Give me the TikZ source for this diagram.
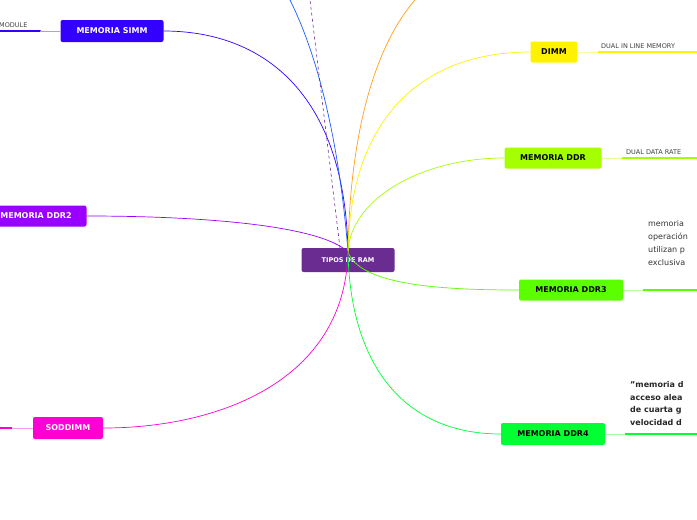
\documentclass[tikz,border=0pt]{standalone}
\usepackage{fontspec}
\setmainfont{DejaVu Sans}
\begin{document}
\begin{tikzpicture}[x=1pt,y=-1pt,
  box/.style={rounded corners=2pt,font=\bfseries\fontsize{8}{9}\selectfont,inner sep=0pt,minimum height=21pt},
  lbl/.style={font=\fontsize{6.5}{7}\selectfont,text=black!75,anchor=south west,inner sep=1pt},
  br/.style={line width=0.7pt}]
\useasboundingbox (0,0) rectangle (697,520);
\clip (0,0) rectangle (697,520);
\definecolor{cpur}{HTML}{6A2C91}
\definecolor{csimm}{HTML}{3300FF}
\definecolor{cblue}{HTML}{1A5CFF}
\definecolor{corange}{HTML}{FF9E1A}
\definecolor{cyel}{HTML}{FFF200}
\definecolor{cddr}{HTML}{A6FF00}
\definecolor{cddr3}{HTML}{5CFF00}
\definecolor{cddr4}{HTML}{00FF33}
\definecolor{cddr2}{HTML}{9900FF}
\definecolor{cso}{HTML}{FF00D4}

\node[box,fill=cpur,text=white,minimum width=93pt,font=\bfseries\fontsize{6.5}{7}\selectfont,minimum height=24pt] (c) at (348,260) {TIPOS DE RAM};
\coordinate (o) at (348,252);

\node[box,fill=csimm,text=white,minimum width=103pt,minimum height=22pt] (simm) at (112,31) {MEMORIA SIMM};
\node[box,fill=cyel,minimum width=47pt] (dimm) at (554,52) {DIMM};
\node[box,fill=cddr,minimum width=97pt] (ddr) at (553,158) {MEMORIA DDR};
\node[box,fill=cddr3,minimum width=104pt] (ddr3) at (571,290) {MEMORIA DDR3};
\node[box,fill=cddr4,minimum width=104pt,minimum height=22pt] (ddr4) at (553,434) {MEMORIA DDR4};
\node[box,fill=cddr2,text=white,minimum width=101pt] (ddr2) at (36,216) {MEMORIA DDR2};
\node[box,fill=cso,text=white,minimum width=70pt,minimum height=22pt] (so) at (68,428) {SODDIMM};

\coordinate (tb) at (290,0);
\coordinate (tp) at (310,0);
\coordinate (to) at (415,0);

\draw[br,csimm] (o) .. controls (345,90) and (260,31) .. (simm.east);
\draw[br,cblue] (o) .. controls (340,150) and (320,60) .. (tb);
\draw[cpur,dashed,line width=0.6pt] (340,248) -- (tp);
\draw[br,corange] (o) .. controls (350,120) and (380,40) .. (to);
\draw[br,cyel] (o) .. controls (350,120) and (420,52) .. (dimm.west);
\draw[br,cddr] (o) .. controls (350,200) and (420,158) .. (ddr.west);
\draw[br,cddr3] (o) .. controls (360,285) and (440,290) .. (ddr3.west);
\draw[br,cddr4] (o) .. controls (350,360) and (400,434) .. (ddr4.west);
\draw[br,cddr2] (o) .. controls (320,225) and (200,216) .. (ddr2.east);
\draw[br,cso] (o) .. controls (345,380) and (220,428) .. (so.east);

% child lines
\coordinate (m1) at (0,31);
\draw[csimm,line width=2pt,line cap=round] (m1) -- (40,31);
\draw[csimm!40,line width=1pt] (40,31) -- (simm.west);
\node[lbl] (l1) at (-2,29) {MODULE};

\coordinate (d1) at (697,52);
\draw[cyel!40,line width=1pt] (dimm.east) -- (598,52);
\draw[cyel,line width=2pt] (598,52) -- (d1);
\node[lbl] (l2) at (600,50) {DUAL IN LINE MEMORY};

\coordinate (d2) at (697,158);
\draw[cddr!40,line width=1pt] (ddr.east) -- (622,158);
\draw[cddr,line width=2pt] (622,158) -- (d2);
\node[lbl] (l3) at (625,156) {DUAL DATA RATE};

\coordinate (d3) at (697,290);
\draw[cddr3!40,line width=1pt] (ddr3.east) -- (643,290);
\draw[cddr3,line width=2pt] (643,290) -- (d3);
\node[font=\fontsize{8}{13}\selectfont,text=black!80,anchor=north west,align=left,inner sep=0pt] (t3) at (648,220) {memoria\\operación\\utilizan p\\exclusiva};

\coordinate (d4) at (697,434);
\draw[cddr4!40,line width=1pt] (ddr4.east) -- (625,434);
\draw[cddr4,line width=2pt] (625,434) -- (d4);
\node[font=\bfseries\fontsize{8}{12.8}\selectfont,text=black!85,anchor=north west,align=left,inner sep=0pt] (t4) at (630,381) {"memoria d\\acceso alea\\de cuarta g\\velocidad d};

\coordinate (s1) at (0,428);
\draw[cso,line width=2pt] (s1) -- (12,428);
\draw[cso!40,line width=1pt] (12,428) -- (so.west);
\end{tikzpicture}
\end{document}
